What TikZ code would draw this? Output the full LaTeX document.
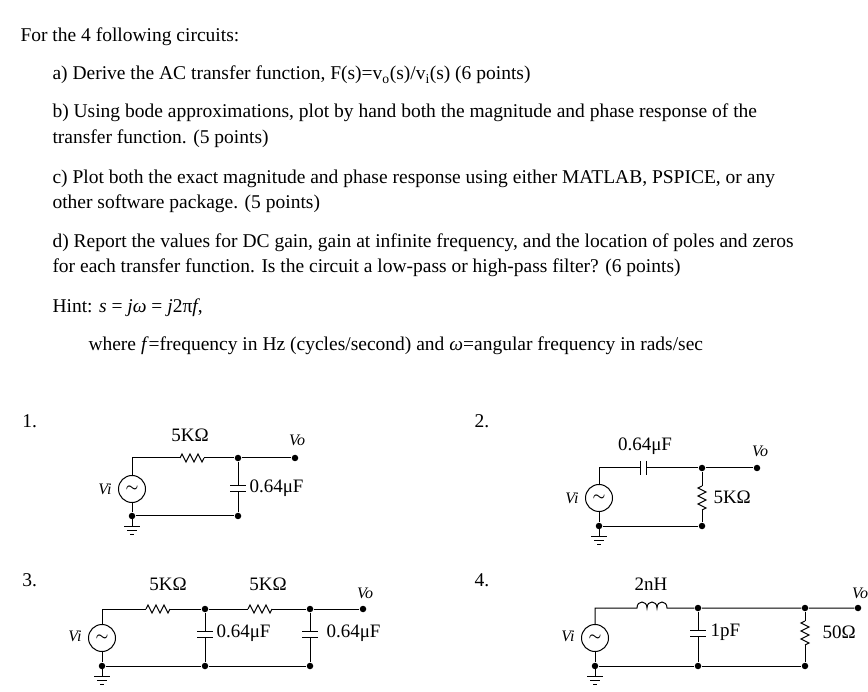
\documentclass[tikz,border=0pt]{standalone}
\usepackage{fontspec}
\setmainfont{Liberation Serif}
\newcommand{\tld}{{\boldmath$\sim$}}
\begin{document}
\begin{tikzpicture}[x=1pt,y=-1pt,line width=1pt,
  txt/.style={anchor=base west,inner sep=0pt,font=\fontsize{19.5}{22}\selectfont},
  lbl/.style={inner sep=0pt,font=\fontsize{19}{21}\selectfont},
  vlbl/.style={inner sep=0pt,font=\fontsize{16}{18}\selectfont\itshape},
  dot/.style={circle,fill,inner sep=0pt,minimum size=6.5pt},
  src/.style={circle,draw,minimum size=27pt,inner sep=0pt,font=\fontsize{15}{15}\selectfont}]
\useasboundingbox (0,0) rectangle (868,692);
% texts
\node[txt] (t0) at (20,42) {For the 4 following circuits:};
\node[txt] (ta) at (52,80) {a) Derive the AC transfer function, F(s)=v\textsubscript{o}(s)/v\textsubscript{i}(s) (6 points)};
\node[txt] (tb1) at (52,118) {b) Using bode approximations, plot by hand both the magnitude and phase response of the};
\node[txt] (tb2) at (52,144) {transfer function. (5 points)};
\node[txt] (tc1) at (52,184) {c) Plot both the exact magnitude and phase response using either MATLAB, PSPICE, or any};
\node[txt] (tc2) at (52,209) {other software package. (5 points)};
\node[txt] (td1) at (52,248) {d) Report the values for DC gain, gain at infinite frequency, and the location of poles and zeros};
\node[txt] (td2) at (52,273) {for each transfer function. Is the circuit a low-pass or high-pass filter? (6 points)};
\node[txt] (th) at (52,313) {Hint: \textit{s} = \textit{jω} = \textit{j}2π\textit{f},};
\node[txt] (tw) at (88,351) {where \textit{f}=frequency in Hz (cycles/second) and \textit{ω}=angular frequency in rads/sec};
\node[txt] (n1) at (22,428) {1.};
\node[txt] (n2) at (474,428) {2.};
\node[txt] (n3) at (22,586) {3.};
\node[txt] (n4) at (474,586) {4.};
% helpers
\def\resH#1#2{\draw (#1-12,#2) -- ++(2,-4) -- ++(4,8) -- ++(4,-8) -- ++(4,8) -- ++(4,-8) -- ++(4,8) -- ++(2,-4);}
\def\resV#1#2{\draw (#1,#2-12) -- ++(-4,2) -- ++(8,4) -- ++(-8,4) -- ++(8,4) -- ++(-8,4) -- ++(8,4) -- ++(-4,2);}
\def\capV#1#2{\draw (#1-8,#2-3) -- (#1+8,#2-3) (#1-8,#2+3) -- (#1+8,#2+3);}
\def\capH#1#2{\draw (#1-3,#2-7) -- (#1-3,#2+7) (#1+3,#2-7) -- (#1+3,#2+7);}
\def\gnd#1#2{\draw (#1,#2) -- (#1,#2+10) (#1-8,#2+10) -- (#1+8,#2+10) (#1-5,#2+14) -- (#1+5,#2+14) (#1-2,#2+18) -- (#1+2,#2+18);}
% circuit 1
\node[src] (s1) at (132,489) {\tld};
\coordinate (a1) at (132,458); \coordinate (b1) at (132,516);
\node[dot] (p1) at (238,458) {}; \node[dot] (o1) at (295,458) {};
\node[dot] (q1) at (238,516) {}; \node[dot] (g1) at (132,516) {};
\draw (s1.north) -- (a1) -- (180,458); \resH{192}{458} \draw (204,458) -- (p1) -- (o1);
\draw (s1.south) -- (g1) -- (q1) -- (238,492); \draw (p1) -- (238,486); \capV{238}{489}
\gnd{132}{516}
\node[lbl] at (190,435) {5KΩ};
\node[vlbl] at (297,440) {Vo};
\node[vlbl,anchor=east] at (112,489) {Vi};
\node[lbl,anchor=west] at (249,488) {0.64μF};
% circuit 2
\node[src] (s2) at (599,498) {\tld};
\node[dot] (p2) at (702,468) {}; \node[dot] (o2) at (757,468) {};
\node[dot] (q2) at (702,526) {}; \node[dot] (g2) at (599,526) {};
\draw (s2.north) -- (599,468) -- (640,468); \capH{643}{468} \draw (646,468) -- (p2) -- (o2);
\draw (s2.south) -- (g2) -- (q2) -- (702,510); \draw (p2) -- (702,486); \resV{702}{498}
\gnd{599}{526}
\node[lbl] at (645,446) {0.64μF};
\node[vlbl] at (760,451) {Vo};
\node[vlbl,anchor=east] at (579,498) {Vi};
\node[lbl,anchor=west] at (713,497) {5KΩ};
% circuit 3
\node[src] (s3) at (102,638) {\tld};
\node[dot] (p3) at (205,609) {}; \node[dot] (r3) at (310,609) {}; \node[dot] (o3) at (363,609) {};
\node[dot] (q3) at (205,666) {}; \node[dot] (u3) at (310,666) {}; \node[dot] (g3) at (102,666) {};
\draw (s3.north) -- (102,609) -- (146,609); \resH{158}{609} \draw (170,609) -- (p3) -- (248,609); \resH{260}{609} \draw (272,609) -- (r3) -- (o3);
\draw (s3.south) -- (g3) -- (q3) -- (u3);
\draw (p3) -- (205,631) (205,637) -- (q3); \capV{205}{634}
\draw (r3) -- (310,631) (310,637) -- (u3); \capV{310}{634}
\gnd{102}{666}
\node[lbl] at (168,584) {5KΩ};
\node[lbl] at (268,584) {5KΩ};
\node[vlbl] at (365,593) {Vo};
\node[vlbl,anchor=east] at (82,636) {Vi};
\node[lbl,anchor=west] at (216,633) {0.64μF};
\node[lbl,anchor=west] at (326,633) {0.64μF};
% circuit 4
\node[src] (s4) at (595,638) {\tld};
\node[dot] (p4) at (698,608) {}; \node[dot] (r4) at (805,608) {}; \node[dot] (o4) at (858,608) {};
\node[dot] (q4) at (698,666) {}; \node[dot] (u4) at (805,666) {}; \node[dot] (g4) at (595,666) {};
\draw (s4.north) -- (595,608) -- (637,608)
  .. controls +(0,-8) and +(0,-8) .. ++(10,0)
  .. controls +(0,-8) and +(0,-8) .. ++(10,0)
  .. controls +(0,-8) and +(0,-8) .. ++(10,0) -- (p4) -- (r4) -- (o4);
\draw (s4.south) -- (g4) -- (q4) -- (u4);
\draw (p4) -- (698,630) (698,636) -- (q4); \capV{698}{633}
\draw (r4) -- (805,621) (805,645) -- (u4); \resV{805}{633}
\gnd{595}{666}
\node[lbl] at (651,584) {2nH};
\node[lbl,anchor=west] at (710,632) {1pF};
\node[lbl,anchor=west] at (822,632) {50Ω};
\node[vlbl] at (860,593) {Vo};
\node[vlbl,anchor=east] at (575,636) {Vi};
\end{tikzpicture}
\end{document}
